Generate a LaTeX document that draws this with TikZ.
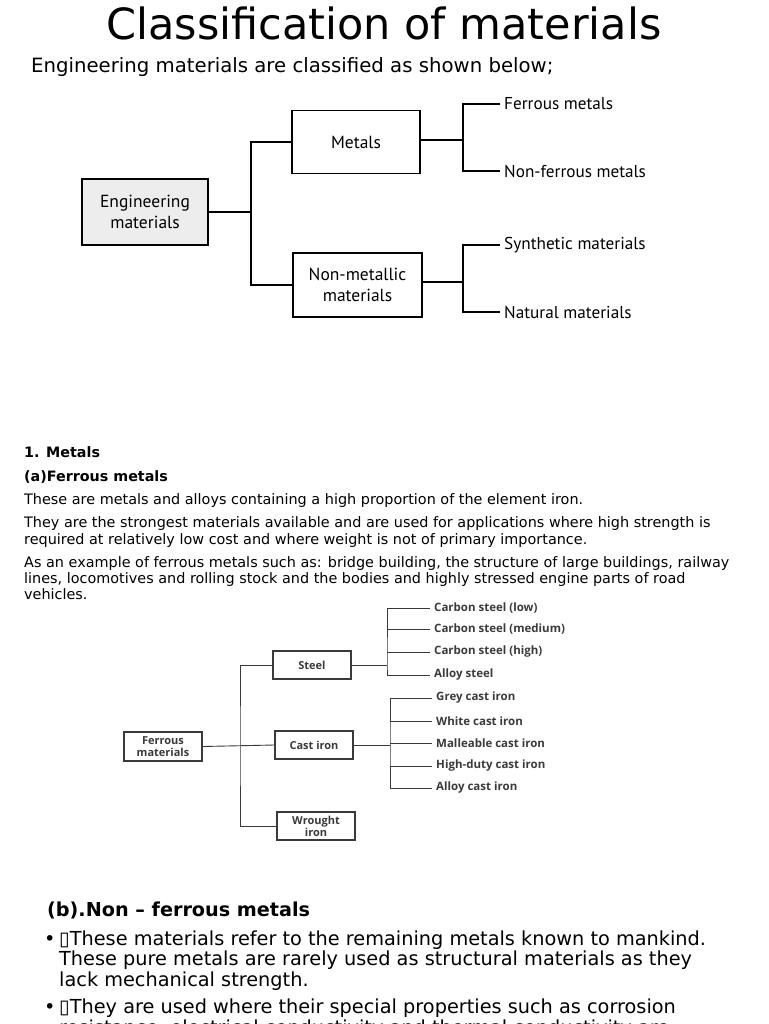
\documentclass[tikz,border=0pt]{standalone}
\usepackage{fontspec}
\setmainfont{DejaVu Sans}
\newfontfamily\diagfont{PT Sans}
\newfontfamily\scanfont{Open Sans}
\definecolor{scan}{HTML}{3A3A3A}
\begin{document}
\begin{tikzpicture}[x=1pt,y=-1pt,
  txt/.style={anchor=base west, inner sep=0pt},
  ttl/.style={anchor=base, inner sep=0pt, font=\fontsize{43}{48}\selectfont},
  sub/.style={txt, font=\fontsize{19.7}{22}\selectfont},
  hd/.style={txt, font=\bfseries\fontsize{14.3}{16}\selectfont},
  para/.style={txt, font=\fontsize{14.4}{17}\selectfont},
  bhd/.style={txt, font=\bfseries\fontsize{19.2}{22}\selectfont},
  body/.style={txt, font=\fontsize{19.3}{23}\selectfont},
  bigbox/.style={draw, line width=1.8pt, align=center, inner sep=0pt,
     font=\diagfont\fontsize{17.5}{21}\selectfont},
  leaf/.style={anchor=west, inner xsep=4pt, inner ysep=0pt,
     font=\diagfont\fontsize{17.2}{21}\selectfont},
  link/.style={line width=1.3pt},
  smbox/.style={draw=scan, line width=1.2pt, align=center, inner sep=0pt,
     text=scan, font=\scanfont\bfseries\fontsize{11}{12}\selectfont},
  smleaf/.style={anchor=west, inner xsep=4pt, inner ysep=0pt, text=scan,
     font=\scanfont\bfseries\fontsize{11.5}{12}\selectfont},
  smlink/.style={draw=scan, line width=0.9pt}]
\useasboundingbox (0,0) rectangle (768,1024);

% ---------- title ----------
\node[ttl] (title) at (384,39.5) {Classification of materials};
\node[sub] (subt) at (31,72.5) {Engineering materials are classified as shown below;};

% ---------- top diagram ----------
\node[bigbox, line width=2.4pt, fill=gray!14, minimum width=126pt, minimum height=66pt] (eng) at (145,212) {Engineering\\materials};
\node[bigbox, minimum width=128pt, minimum height=63pt] (metals) at (356,142) {Metals};
\node[bigbox, minimum width=129pt, minimum height=64pt] (nonmet) at (357.5,285) {Non-metallic\\materials};
\coordinate (t1) at (251,212);
\coordinate (b1) at (463,140);
\coordinate (b2) at (463,282);
\node[leaf] (fm) at (500,104) {Ferrous metals};
\node[leaf] (nfm) at (500,171) {Non-ferrous metals};
\node[leaf] (syn) at (500,245) {Synthetic materials};
\node[leaf] (nat) at (500,312) {Natural materials};
\draw[link] (eng.east) -- (t1);
\draw[link] (metals.west) -| (t1) |- (nonmet.west);
\draw[link] (metals.east |- b1) -- (b1);
\draw[link] (fm.west) -| (b1) |- (nfm.west);
\draw[link] (nonmet.east |- b2) -- (b2);
\draw[link] (syn.west) -| (b2) |- (nat.west);

% ---------- middle text ----------
\node[hd] (h1) at (24,457) {1. Metals};
\node[hd] (h2) at (24,481) {(a)Ferrous metals};
\node[para] (p1) at (24,504) {These are metals and alloys containing a high proportion of the element iron.};
\node[para] (p2) at (24,527) {They are the strongest materials available and are used for applications where high strength is};
\node[para] (p3) at (24,544) {required at relatively low cost and where weight is not of primary importance.};
\node[para] (p4) at (24,567) {As an example of ferrous metals such as: bridge building, the structure of large buildings, railway};
\node[para] (p5) at (24,583) {lines, locomotives and rolling stock and the bodies and highly stressed engine parts of road};
\node[para] (p6) at (24,599) {vehicles.};

% ---------- lower diagram ----------
\node[smbox, minimum width=78pt, minimum height=29pt] (fer) at (163,746.5) {Ferrous\\materials};
\node[smbox, minimum width=78pt, minimum height=28pt] (steel) at (312,665) {Steel};
\node[smbox, minimum width=78pt, minimum height=28pt] (cast) at (314,745) {Cast iron};
\node[smbox, minimum width=78pt, minimum height=28pt] (wro) at (316,826) {Wrought\\iron};
\coordinate (t2) at (240,746);
\coordinate (s1) at (387,665);
\coordinate (c1) at (390,745);
\node[smleaf] (l1) at (430,608) {Carbon steel (low)};
\node[smleaf] (l2) at (430,629) {Carbon steel (medium)};
\node[smleaf] (l3) at (430,652) {Carbon steel (high)};
\node[smleaf] (l4) at (430,675) {Alloy steel};
\node[smleaf] (k1) at (432,698) {Grey cast iron};
\node[smleaf] (k2) at (432,721) {White cast iron};
\node[smleaf] (k3) at (432,743) {Malleable cast iron};
\node[smleaf] (k4) at (432,766) {High-duty cast iron};
\node[smleaf] (k5) at (432,788) {Alloy cast iron};
\draw[smlink] (fer.east) -- (cast.west);
\draw[smlink] (steel.west) -| (t2) |- (wro.west);
\draw[smlink] (steel.east) -- (s1);
\draw[smlink] (l1.west) -| (s1) |- (l4.west);
\draw[smlink] (l2.west) -- (l2.west -| s1);
\draw[smlink] (l3.west) -- (l3.west -| s1);
\draw[smlink] (cast.east) -- (c1);
\draw[smlink] (k1.west) -| (c1) |- (k5.west);
\draw[smlink] (k2.west) -- (k2.west -| c1);
\draw[smlink] (k3.west) -- (k3.west -| c1);
\draw[smlink] (k4.west) -- (k4.west -| c1);

% ---------- bottom text ----------
\node[bhd] (h3) at (47,916) {(b).Non – ferrous metals};
\node[body] (u1) at (44,945) {•};
\node[body] (q1) at (59,945) {▯These materials refer to the remaining metals known to mankind.};
\node[body] (q2) at (59,965) {These pure metals are rarely used as structural materials as they};
\node[body] (q3) at (59,986) {lack mechanical strength.};
\node[body] (u2) at (44,1013) {•};
\node[body] (q4) at (59,1013) {▯They are used where their special properties such as corrosion};
\node[body] (q5) at (59,1034) {resistance, electrical conductivity and thermal conductivity are};
\end{tikzpicture}
\end{document}
